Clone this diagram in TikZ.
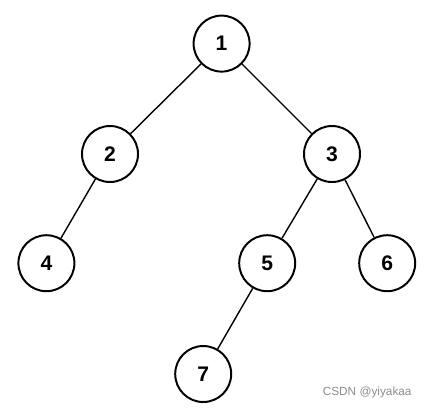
\documentclass[tikz,border=0pt]{standalone}
\usepackage{fontspec}
\setmainfont{Liberation Sans}
\usepackage{tikz}
\usetikzlibrary{calc}

\begin{document}
\begin{tikzpicture}[treenode/.style={circle,draw=black,line width=1.4pt,minimum size=1.4cm,inner sep=0pt,font=\bfseries\fontsize{15}{18}\selectfont}]
\useasboundingbox (0cm,0cm) rectangle (10.65cm,-10.175cm);
\node[treenode] (1) at (5.54 cm,-1.09cm) {1};
\node[treenode] (2) at (2.75 cm,-3.85cm) {2};
\node[treenode] (3) at (8.30 cm,-3.85cm) {3};
\node[treenode] (4) at (1.16 cm,-6.58cm) {4};
\node[treenode] (5) at (6.68 cm,-6.58cm) {5};
\node[treenode] (6) at (9.68 cm,-6.58cm) {6};
\node[treenode] (7) at (5.08 cm,-9.35cm) {7};
\draw[line width=1pt] (1) -- (2);
\draw[line width=1pt] (1) -- (3);
\draw[line width=1pt] (2) -- (4);
\draw[line width=1pt] (3) -- (5);
\draw[line width=1pt] (3) -- (6);
\draw[line width=1pt] (5) -- (7);
\node[text=black!45,font=\fontsize{8.4}{10}\selectfont] (mark) at (9.18 cm,-9.80cm) {CSDN @yiyakaa};
\end{tikzpicture}
\end{document}
